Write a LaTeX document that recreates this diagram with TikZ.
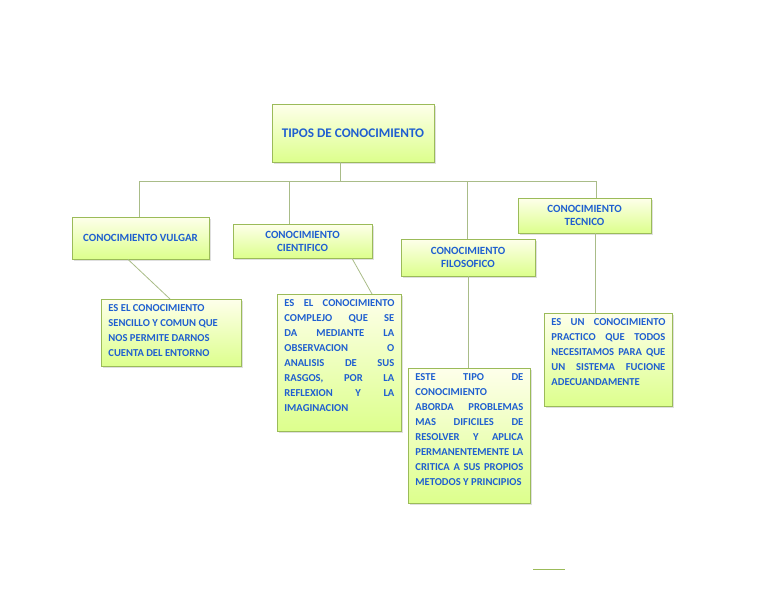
\documentclass[tikz,border=0pt]{standalone}
\usepackage{fontspec}
\setmainfont{Carlito}
\usetikzlibrary{shadows}
\definecolor{txt}{HTML}{1F5FD0}
\definecolor{bord}{HTML}{9BBB59}
\definecolor{lnk}{HTML}{A9BC88}
\newcommand{\dtext}[3]{\parbox[t][#2][t]{#1}{\hyphenpenalty=10000\exhyphenpenalty=10000\emergencystretch=3em\tolerance=9999 #3}}
\tikzset{
 box/.style={draw=bord,line width=0.8pt,top color=green!6!yellow!8,bottom color=green!30!yellow!45,
   drop shadow={opacity=0.25,shadow xshift=1.5pt,shadow yshift=-1.5pt},
   font=\bfseries\fontsize{11}{13}\selectfont,text=txt,inner sep=3pt},
 hdr/.style={box,align=center},
 desc/.style={box,anchor=north west,inner xsep=7pt,inner ysep=5pt,
   font=\bfseries\fontsize{10.6}{15}\selectfont},
 link/.style={draw=lnk,line width=0.8pt}
}
\begin{document}
\begin{tikzpicture}[x=1pt,y=1pt]
\useasboundingbox (0,0) rectangle (768,-594);
\node[hdr,minimum width=162pt,minimum height=58pt,font=\bfseries\fontsize{13.2}{15}\selectfont] (t) at (353,-133) {TIPOS DE CONOCIMIENTO};
\node[hdr,minimum width=137pt,minimum height=42pt] (v) at (140.5,-238) {CONOCIMIENTO VULGAR};
\node[hdr,minimum width=139pt,minimum height=34pt] (c) at (302.5,-241) {CONOCIMIENTO\\CIENTIFICO};
\node[hdr,minimum width=134pt,minimum height=37pt] (f) at (468,-257.5) {CONOCIMIENTO\\FILOSOFICO};
\node[hdr,minimum width=133pt,minimum height=35pt] (k) at (584.5,-215.5) {CONOCIMIENTO\\TECNICO};
\node[desc] (d1) at (101,-299) {\dtext{126pt}{57pt}{\raggedright ES EL CONOCIMIENTO SENCILLO Y COMUN QUE NOS PERMITE DARNOS CUENTA DEL ENTORNO}};
\node[desc] (d2) at (277,-294) {\dtext{110pt}{127pt}{ES EL CONOCIMIENTO COMPLEJO QUE SE DA MEDIANTE LA OBSERVACION O ANALISIS DE SUS RASGOS, POR LA REFLEXION Y LA IMAGINACION}};
\node[desc] (d3) at (408,-368) {\dtext{108pt}{125pt}{ESTE TIPO DE CONOCIMIENTO ABORDA PROBLEMAS MAS DIFICILES DE RESOLVER Y APLICA PERMANENTEMENTE LA CRITICA A SUS PROPIOS METODOS Y PRINCIPIOS}};
\node[desc] (d4) at (544,-313) {\dtext{114pt}{83pt}{ES UN CONOCIMIENTO PRACTICO QUE TODOS NECESITAMOS PARA QUE UN SISTEMA FUCIONE ADECUANDAMENTE}};
\coordinate (h) at (340,-181);
\draw[link] (t.south -| h) -- (h);
\draw[link] (139,-181) -- (596,-181);
\draw[link] (139,-181) -- (v.north -| 139,0);
\draw[link] (289,-181) -- (c.north -| 289,0);
\draw[link] (467,-181) -- (f.north -| 467,0);
\draw[link] (596,-181) -- (k.north -| 596,0);
\draw[link] (v.south -| 128,0) -- (d1.north -| 170,0);
\draw[link] (c.south -| 352,0) -- (d2.north -| 372,0);
\draw[link] (f.south -| 468,0) -- (d3.north -| 468,0);
\draw[link] (k.south -| 595,0) -- (d4.north -| 595,0);
\draw[draw=bord,line width=1pt] (533,-569) -- (565,-569);
\end{tikzpicture}
\end{document}
